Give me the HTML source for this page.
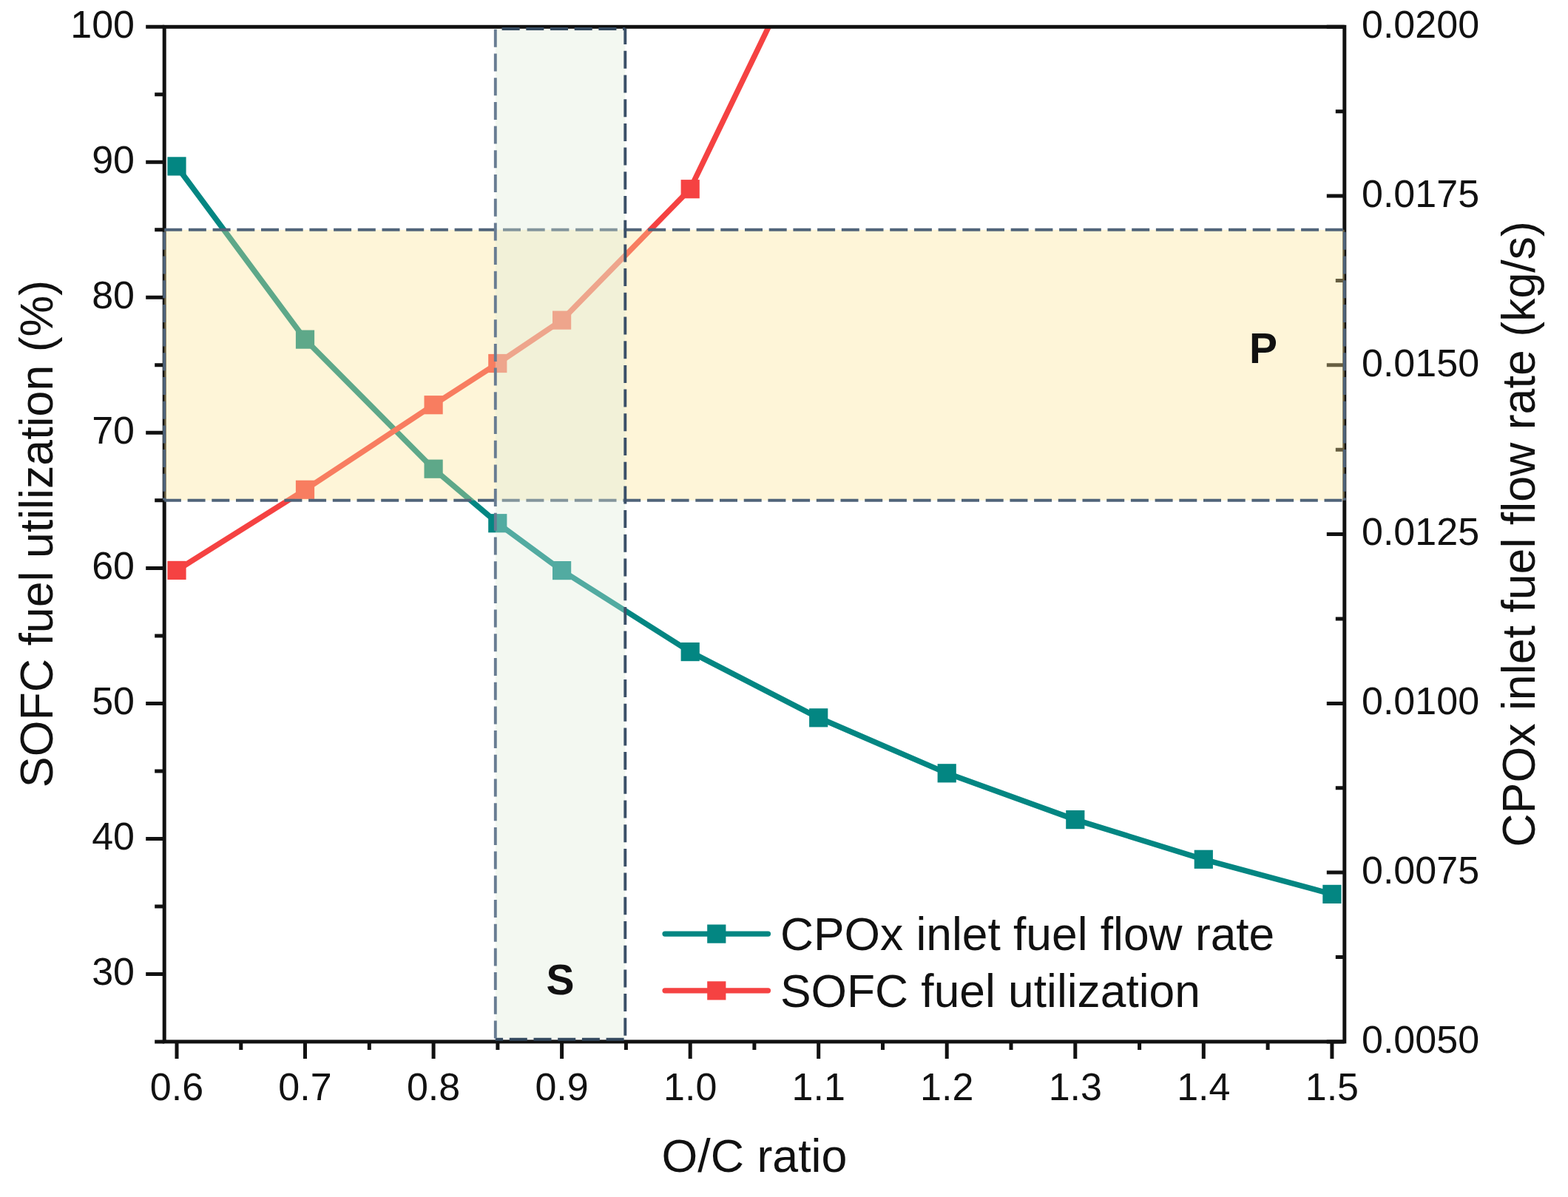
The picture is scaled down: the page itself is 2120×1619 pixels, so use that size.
<!DOCTYPE html><html><head><meta charset="utf-8"><title>O/C ratio chart</title><style>html,body{margin:0;padding:0;background:#fff;}svg{display:block;}</style></head><body>
<svg width="2120" height="1619" viewBox="0 0 2120 1619" font-family="'Liberation Sans', Arial, Helvetica, sans-serif">
<rect width="2120" height="1619" fill="#fff"/>
<defs><clipPath id="pc"><rect x="222.2" y="36.3" width="1595.6" height="1372.6000000000001"/></clipPath></defs>
<g clip-path="url(#pc)">
<polyline points="239.0,224.9 412.5,459.1 586.1,634.2 672.9,707.7 759.6,771.6 933.2,881.6 1106.7,970.8 1280.2,1045.8 1453.8,1108.6 1627.3,1162.3 1800.9,1209.4" fill="none" stroke="#038682" stroke-width="7.5" stroke-linejoin="round"/>
<polyline points="239.0,771.4 412.5,662.3 586.1,547.7 672.9,491.5 759.6,433.1 933.2,255.7 1106.7,-103.4" fill="none" stroke="#F54242" stroke-width="7.5" stroke-linejoin="round"/>
<rect x="226.4" y="212.3" width="25.2" height="25.2" fill="#038682"/>
<rect x="399.9" y="446.5" width="25.2" height="25.2" fill="#038682"/>
<rect x="573.5" y="621.6" width="25.2" height="25.2" fill="#038682"/>
<rect x="660.2" y="695.1" width="25.2" height="25.2" fill="#038682"/>
<rect x="747.0" y="759.0" width="25.2" height="25.2" fill="#038682"/>
<rect x="920.6" y="869.0" width="25.2" height="25.2" fill="#038682"/>
<rect x="1094.1" y="958.2" width="25.2" height="25.2" fill="#038682"/>
<rect x="1267.6" y="1033.2" width="25.2" height="25.2" fill="#038682"/>
<rect x="1441.2" y="1096.0" width="25.2" height="25.2" fill="#038682"/>
<rect x="1614.7" y="1149.7" width="25.2" height="25.2" fill="#038682"/>
<rect x="1788.3" y="1196.8" width="25.2" height="25.2" fill="#038682"/>
<rect x="226.4" y="758.8" width="25.2" height="25.2" fill="#F54242"/>
<rect x="399.9" y="649.7" width="25.2" height="25.2" fill="#F54242"/>
<rect x="573.5" y="535.1" width="25.2" height="25.2" fill="#F54242"/>
<rect x="660.2" y="478.9" width="25.2" height="25.2" fill="#F54242"/>
<rect x="747.0" y="420.5" width="25.2" height="25.2" fill="#F54242"/>
<rect x="920.6" y="243.1" width="25.2" height="25.2" fill="#F54242"/>
<rect x="1094.1" y="-116.0" width="25.2" height="25.2" fill="#F54242"/>
</g>
<g stroke="#111" stroke-width="5" fill="none" stroke-linecap="square">
<rect x="222.2" y="36.3" width="1595.6" height="1372.6"/>
</g>
<path d="M197.2 36.3H222.2M209.2 127.8H222.2M197.2 219.3H222.2M209.2 310.8H222.2M197.2 402.3H222.2M209.2 493.8H222.2M197.2 585.3H222.2M209.2 676.8H222.2M197.2 768.4H222.2M209.2 859.9H222.2M197.2 951.4H222.2M209.2 1042.9H222.2M197.2 1134.4H222.2M209.2 1225.9H222.2M197.2 1317.4H222.2M209.2 1408.9H222.2M239.0 1408.9V1431.9M325.8 1408.9V1419.9M412.5 1408.9V1431.9M499.3 1408.9V1419.9M586.1 1408.9V1431.9M672.9 1408.9V1419.9M759.6 1408.9V1431.9M846.4 1408.9V1419.9M933.2 1408.9V1431.9M1019.9 1408.9V1419.9M1106.7 1408.9V1431.9M1193.5 1408.9V1419.9M1280.2 1408.9V1431.9M1367.0 1408.9V1419.9M1453.8 1408.9V1431.9M1540.6 1408.9V1419.9M1627.3 1408.9V1431.9M1714.1 1408.9V1419.9M1800.9 1408.9V1431.9M1793.8 1408.9H1817.8M1805.8 1294.5H1817.8M1793.8 1180.1H1817.8M1805.8 1065.8H1817.8M1793.8 951.4H1817.8M1805.8 837.0H1817.8M1793.8 722.6H1817.8M1805.8 608.2H1817.8M1793.8 493.8H1817.8M1805.8 379.5H1817.8M1793.8 265.1H1817.8M1805.8 150.7H1817.8M1793.8 36.3H1817.8" stroke="#111" stroke-width="5" fill="none"/>
<rect x="222.2" y="310.8" width="1595.6" height="366.0" fill="rgba(253,228,150,0.37)"/>
<path d="M222.2 310.8H1817.8" stroke="#50647a" stroke-width="3.9" stroke-dasharray="24 8.7" stroke-dashoffset="0" fill="none"/>
<path d="M222.2 676.8H1817.8" stroke="#50647a" stroke-width="3.9" stroke-dasharray="24 8.7" stroke-dashoffset="1.3" fill="none"/>
<path d="M222.2 310.8V676.8M1817.8 310.8V676.8" stroke="#50647a" stroke-width="3.9" stroke-dasharray="24 8.7" stroke-dashoffset="-3" fill="none"/>
<rect x="669.8" y="39.0" width="175.5" height="1366.7" fill="rgba(222,236,217,0.366)"/>
<path d="M669.8 39.0H845.3" stroke="#34495f" stroke-width="3.9" stroke-dasharray="24 8.7" stroke-dashoffset="23.9" fill="none"/>
<path d="M669.8 1405.7H845.3" stroke="#34495f" stroke-width="3.9" stroke-dasharray="24 8.7" stroke-dashoffset="13.7" fill="none"/>
<path d="M669.8 39.0V1405.7" stroke="#687c92" stroke-width="3.9" stroke-dasharray="24 8.7" stroke-dashoffset="31.9" fill="none"/>
<path d="M845.3 39.0V1405.7" stroke="#3b5068" stroke-width="3.9" stroke-dasharray="24 8.7" stroke-dashoffset="2.9" fill="none"/>
<g font-size="52" fill="#111"><text x="182" y="1332.2" text-anchor="end">30</text><text x="182" y="1149.2" text-anchor="end">40</text><text x="182" y="966.2" text-anchor="end">50</text><text x="182" y="783.2" text-anchor="end">60</text><text x="182" y="600.1" text-anchor="end">70</text><text x="182" y="417.1" text-anchor="end">80</text><text x="182" y="234.1" text-anchor="end">90</text><text x="182" y="51.1" text-anchor="end">100</text><text x="239.0" y="1488.4" text-anchor="middle">0.6</text><text x="412.5" y="1488.4" text-anchor="middle">0.7</text><text x="586.1" y="1488.4" text-anchor="middle">0.8</text><text x="759.6" y="1488.4" text-anchor="middle">0.9</text><text x="933.2" y="1488.4" text-anchor="middle">1.0</text><text x="1106.7" y="1488.4" text-anchor="middle">1.1</text><text x="1280.2" y="1488.4" text-anchor="middle">1.2</text><text x="1453.8" y="1488.4" text-anchor="middle">1.3</text><text x="1627.3" y="1488.4" text-anchor="middle">1.4</text><text x="1800.9" y="1488.4" text-anchor="middle">1.5</text><text x="1841" y="1423.7">0.0050</text><text x="1841" y="1194.9">0.0075</text><text x="1841" y="966.2">0.0100</text><text x="1841" y="737.4">0.0125</text><text x="1841" y="508.6">0.0150</text><text x="1841" y="279.9">0.0175</text><text x="1841" y="51.1">0.0200</text></g>
<text x="1020" y="1585" font-size="62.7" text-anchor="middle" fill="#111">O/C ratio</text>
<text transform="translate(70.7 722) rotate(-90)" font-size="62.7" text-anchor="middle" fill="#111">SOFC fuel utilization (%)</text>
<text transform="translate(2075 722.4) rotate(-90)" font-size="62.7" text-anchor="middle" fill="#111">CPOx inlet fuel flow rate (kg/s)</text>
<text x="1708" y="490.5" font-size="57" font-weight="bold" text-anchor="middle" fill="#111">P</text>
<text x="757.4" y="1345" font-size="57" font-weight="bold" text-anchor="middle" fill="#111">S</text>
<path d="M899 1263.1H1038.5" stroke="#038682" stroke-width="7.2" stroke-linecap="round"/><rect x="956.1999999999999" y="1250.5" width="25.2" height="25.2" fill="#038682"/>
<path d="M899 1339.8H1038.5" stroke="#F54242" stroke-width="7.2" stroke-linecap="round"/><rect x="956.1999999999999" y="1327.3000000000002" width="25.2" height="25.2" fill="#F54242"/>
<text x="1055" y="1284.5" font-size="62.3" fill="#111">CPOx inlet fuel flow rate</text>
<text x="1055" y="1361.5" font-size="62.3" fill="#111">SOFC fuel utilization</text>
</svg></body></html>
